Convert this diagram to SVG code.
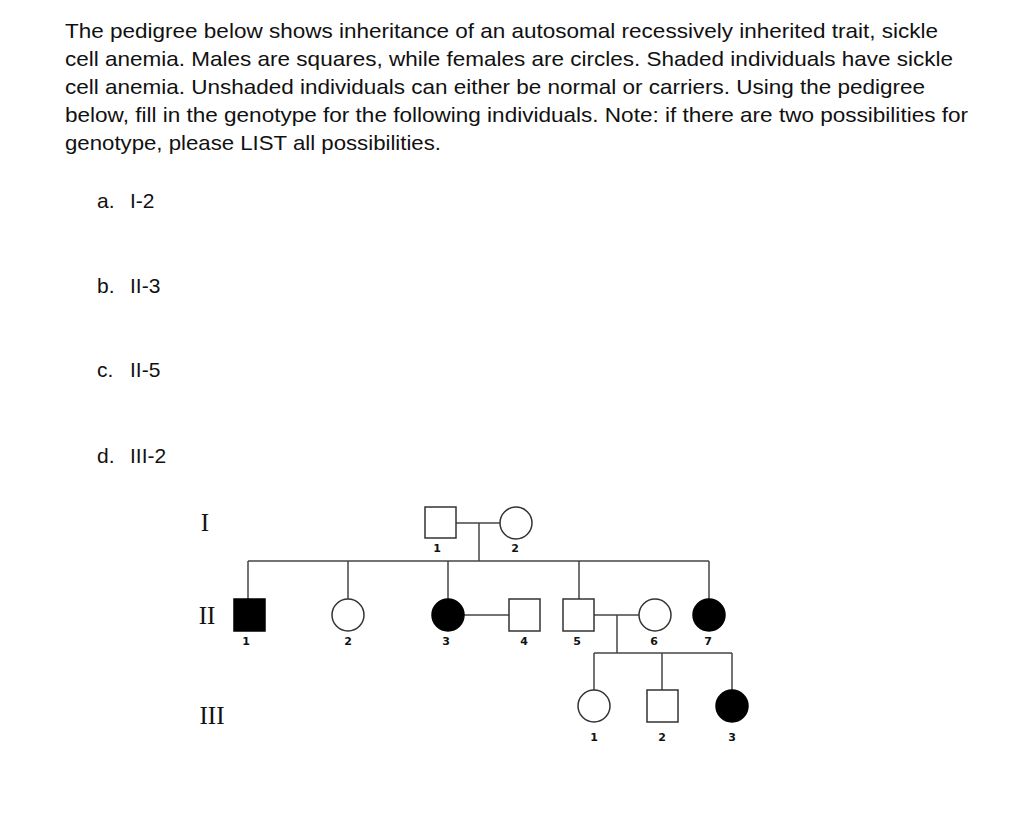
<svg xmlns="http://www.w3.org/2000/svg" width="1024" height="833" viewBox="0 0 1024 833">
<style>
.t{font-family:"Liberation Sans",Arial,sans-serif;font-size:21px;fill:#111}
.s{fill:#fff;stroke:#333;stroke-width:1.5}
.f{fill:#000;stroke:#000;stroke-width:1.5}
.n{font-family:"DejaVu Sans",sans-serif;font-weight:bold;font-size:11px;text-anchor:middle;fill:#111}
.r{font-family:"Liberation Serif",serif;font-size:25px;text-anchor:middle;fill:#111}
.c line{stroke:#444;stroke-width:1.5}
</style>
<rect width="1024" height="833" fill="#fff"/>
<g id="question">
<text class="t" x="65" y="38" textLength="873" lengthAdjust="spacingAndGlyphs">The pedigree below shows inheritance of an autosomal recessively inherited trait, sickle</text>
<text class="t" x="65" y="66" textLength="888" lengthAdjust="spacingAndGlyphs">cell anemia. Males are squares, while females are circles. Shaded individuals have sickle</text>
<text class="t" x="65" y="94" textLength="860" lengthAdjust="spacingAndGlyphs">cell anemia. Unshaded individuals can either be normal or carriers. Using the pedigree</text>
<text class="t" x="65" y="122" textLength="903" lengthAdjust="spacingAndGlyphs">below, fill in the genotype for the following individuals. Note: if there are two possibilities for</text>
<text class="t" x="65" y="150" textLength="376" lengthAdjust="spacingAndGlyphs">genotype, please LIST all possibilities.</text>
<text class="t" x="97" y="208">a.</text><text class="t" x="130" y="208">I-2</text>
<text class="t" x="97" y="293">b.</text><text class="t" x="130" y="293">II-3</text>
<text class="t" x="97" y="377">c.</text><text class="t" x="130" y="377">II-5</text>
<text class="t" x="97" y="463">d.</text><text class="t" x="130" y="463">III-2</text>
</g>
<g id="gen-labels">
<text class="r" x="205" y="531">I</text>
<text class="r" x="207" y="624">II</text>
<text class="r" x="212" y="724">III</text>
</g>
<g class="c" id="connectors">
<line x1="455" y1="523" x2="500" y2="523"/>
<line x1="479" y1="523" x2="479" y2="561"/>
<line x1="248" y1="561" x2="709" y2="561"/>
<line x1="248" y1="561" x2="248" y2="599"/>
<line x1="348" y1="561" x2="348" y2="599"/>
<line x1="448" y1="561" x2="448" y2="599"/>
<line x1="579" y1="561" x2="579" y2="599"/>
<line x1="709" y1="561" x2="709" y2="599"/>
<line x1="464" y1="615" x2="509" y2="615"/>
<line x1="594" y1="615" x2="639" y2="615"/>
<line x1="617" y1="615" x2="617" y2="653"/>
<line x1="594" y1="653" x2="732" y2="653"/>
<line x1="594" y1="653" x2="594" y2="690"/>
<line x1="662" y1="653" x2="662" y2="690"/>
<line x1="732" y1="653" x2="732" y2="690"/>
</g>
<g id="I-1"><rect class="s" x="425" y="507" width="31" height="31"/><text class="n" x="437" y="552">1</text></g>
<g id="I-2"><circle class="s" cx="516" cy="523" r="16"/><text class="n" x="515" y="552">2</text></g>
<g id="II-1"><rect class="f" x="234" y="599" width="31" height="32"/><text class="n" x="246" y="645">1</text></g>
<g id="II-2"><circle class="s" cx="348" cy="615" r="16"/><text class="n" x="348" y="645">2</text></g>
<g id="II-3"><circle class="f" cx="448" cy="615" r="16"/><text class="n" x="446" y="645">3</text></g>
<g id="II-4"><rect class="s" x="509" y="599" width="31" height="32"/><text class="n" x="524" y="645">4</text></g>
<g id="II-5"><rect class="s" x="563" y="599" width="31" height="32"/><text class="n" x="577" y="645">5</text></g>
<g id="II-6"><circle class="s" cx="655" cy="615" r="16"/><text class="n" x="654" y="645">6</text></g>
<g id="II-7"><circle class="f" cx="709" cy="615" r="16"/><text class="n" x="708" y="645">7</text></g>
<g id="III-1"><circle class="s" cx="594" cy="706" r="16"/><text class="n" x="594" y="741">1</text></g>
<g id="III-2"><rect class="s" x="647" y="690" width="31" height="32"/><text class="n" x="662" y="741">2</text></g>
<g id="III-3"><circle class="f" cx="732" cy="706" r="16"/><text class="n" x="732" y="741">3</text></g>
</svg>
